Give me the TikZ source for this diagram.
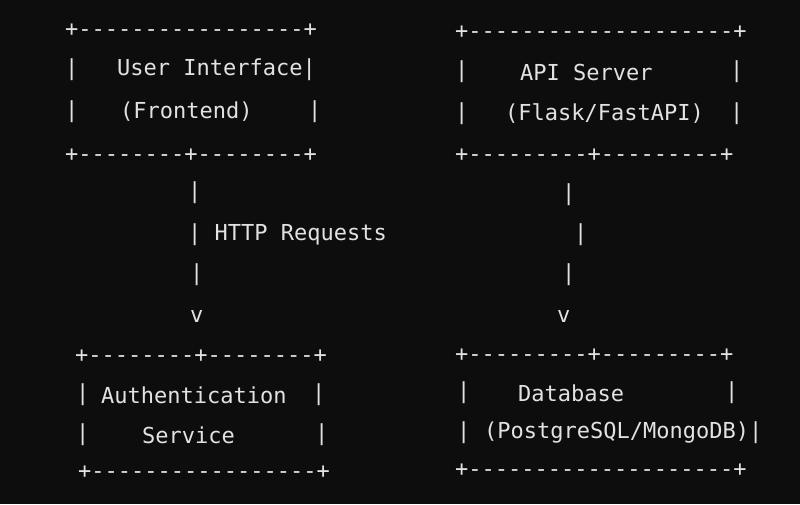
\documentclass[tikz,border=0pt]{standalone}
\usepackage{fontspec}
\setmonofont{DejaVu Sans Mono}
\begin{document}
\begin{tikzpicture}[x=1pt,y=-1pt,
  t/.style={anchor=west,inner sep=0pt,text=txt,font=\ttfamily\fontsize{22}{22}\selectfont}]
\definecolor{txt}{HTML}{E2E2E2}
\fill[black!95!white] (0,0) rectangle (800,504);
\useasboundingbox (0,0) rectangle (800,504);
% left top box
\node[t] (l1) at (65,30) {+-----------------+};
\node[t] (l2a) at (65,70) {|};
\node[t] (l2b) at (117,70) {User Interface|};
\node[t] (l3a) at (65,112) {|};
\node[t] (l3b) at (120,112) {(Frontend)};
\node[t] (l3c) at (308,112) {|};
\node[t] (l4) at (65,155) {+--------+--------+};
% left arrow
\node[t] (a1) at (188,193) {|};
\node[t] (a2) at (188,235) {| HTTP Requests};
\node[t] (a3) at (190,275) {|};
\node[t] (a4) at (190,316) {v};
% left bottom box
\node[t] (b1) at (75,356) {+--------+--------+};
\node[t] (b2a) at (76,395) {|};
\node[t] (b2b) at (101,395) {Authentication};
\node[t] (b2c) at (312,395) {|};
\node[t] (b3a) at (76,435) {|};
\node[t] (b3b) at (142,435) {Service};
\node[t] (b3c) at (315,435) {|};
\node[t] (b4) at (78,472) {+-----------------+};
% right top box
\node[t] (r1) at (455,32) {+--------------------+};
\node[t] (r2a) at (455,72) {|};
\node[t] (r2b) at (520,72) {API Server};
\node[t] (r2c) at (730,72) {|};
\node[t] (r3a) at (455,114) {|};
\node[t] (r3b) at (505,114) {(Flask/FastAPI)};
\node[t] (r3c) at (730,114) {|};
\node[t] (r4) at (455,155) {+---------+---------+};
% right arrow
\node[t] (c1) at (562,195) {|};
\node[t] (c2) at (574,235) {|};
\node[t] (c3) at (562,275) {|};
\node[t] (c4) at (557,316) {v};
% right bottom box
\node[t] (d1) at (455,355) {+---------+---------+};
\node[t] (d2a) at (457,393) {|};
\node[t] (d2b) at (518,393) {Database};
\node[t] (d2c) at (725,393) {|};
\node[t] (d3a) at (457,433) {|};
\node[t] (d3b) at (484,433) {(PostgreSQL/MongoDB)|};
\node[t] (d4) at (455,470) {+--------------------+};
\end{tikzpicture}
\end{document}
